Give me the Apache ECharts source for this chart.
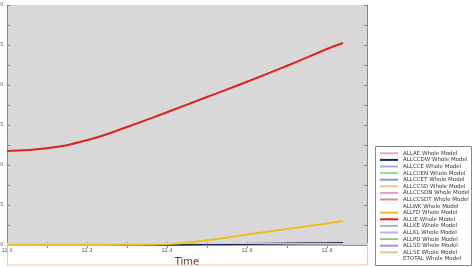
<!DOCTYPE html>
<html><head><meta charset="utf-8">
<script src="https://cdn.jsdelivr.net/npm/echarts@6/dist/echarts.min.js"></script>
<style>html,body{margin:0;padding:0;background:#fff}#c{width:474px;height:267px}</style>
</head><body><div id="c"></div>
<script>
var times = [12.0, 12.1, 12.2, 12.3, 12.4, 12.5, 12.6, 12.7, 12.8, 12.84];
var seriesNames = ["ALLAE Whole Model","ALLCCDW Whole Model","ALLCCE Whole Model","ALLCCEN Whole Model","ALLCCET Whole Model","ALLCCSD Whole Model","ALLCCSDN Whole Model","ALLCCSDT Whole Model","ALLWK Whole Model","ALLFD Whole Model","ALLIE Whole Model","ALLKE Whole Model","ALLKL Whole Model","ALLPD Whole Model","ALLSD Whole Model","ALLSE Whole Model","ETOTAL Whole Model"];
var allie  = [11.75, 12.1, 13.1, 14.75, 16.6, 18.5, 20.4, 22.4, 24.5, 25.25];
var allfd  = [0, 0, 0, 0.02, 0.12, 0.6, 1.3, 2.0, 2.7, 3.0];
var allccdw= [0, 0, 0.01, 0.02, 0.04, 0.08, 0.13, 0.18, 0.23, 0.25];
var zeros  = [0, 0, 0, 0, 0, 0, 0, 0, 0, 0];
var xTickLabels = ["12.0","12.2","12.4","12.6","12.8"];
var yTickLabels = ["0.","5.","10.","15.","20.","25.","30."];

var colors = ["#f0a8b8","#1a2456","#a8a8e8","#98d898","#8898e0","#e8c890","#e898d8","#c89898","rgba(0,0,0,0)","#e8c020","#e02020","#a8b8c8","#c8a8e8","#98c888","#9898e8","#e8c890","rgba(0,0,0,0)"];
var widths = [1,2,1,1,1,1,1,1,1,2,2,1,1,1,1,1,1];
var dataMap = {1: allccdw, 9: allfd, 10: allie};

var series = seriesNames.map(function(n, i){
  var vals = dataMap[i] || zeros;
  return {
    name: n, type: 'line', smooth: true, showSymbol: false, symbol: 'none',
    xAxisIndex: 0, yAxisIndex: 0,
    z: (i===10||i===9||i===1) ? 5 : 2,
    lineStyle: {color: colors[i], width: widths[i]},
    itemStyle: {color: colors[i]},
    data: times.map(function(t, k){ return [t, vals[k]]; })
  };
});

var chart = echarts.init(document.getElementById('c'), null, {renderer: 'canvas'});
var labelStyle = {fontSize: 5, color: '#555', fontFamily: 'DejaVu Sans'};
chart.setOption({
  animation: false,
  backgroundColor: '#ffffff',
  grid: {left: 7, right: 107, top: 5, bottom: 22, show: true, backgroundColor: '#d8d8d8', borderWidth: 0, containLabel: false, outerBoundsMode: 'none'},
  xAxis: [{
    type: 'value', min: 12.0, max: 12.9, interval: 0.1, position: 'bottom',
    name: 'Time', nameLocation: 'middle', nameGap: 9,
    nameTextStyle: {fontSize: 10, color: '#444', fontFamily: 'DejaVu Sans'},
    axisLine: {show: true, lineStyle: {color: '#888', width: 1}},
    axisTick: {show: true, inside: true, length: 3, lineStyle: {color: '#888'}},
    splitLine: {show: false},
    axisLabel: Object.assign({margin: 3, showMaxLabel: false, formatter: function(v){
      var k = Math.round((v - 12.0) * 10);
      return (k % 2 === 0 && k/2 < xTickLabels.length) ? xTickLabels[k/2] : '';
    }}, labelStyle)
  },{
    type: 'value', min: 12.0, max: 12.9, interval: 0.1, position: 'top',
    axisLine: {show: true, lineStyle: {color: '#888', width: 1}},
    axisTick: {show: true, inside: true, length: 3, lineStyle: {color: '#888'}},
    splitLine: {show: false}, axisLabel: {show: false}
  }],
  yAxis: [{
    type: 'value', min: 0, max: 30, interval: 2.5, position: 'left',
    axisLine: {show: true, lineStyle: {color: '#888', width: 1}},
    axisTick: {show: true, inside: true, length: 3, lineStyle: {color: '#888'}},
    splitLine: {show: false},
    axisLabel: Object.assign({margin: 2, formatter: function(v){
      var k = Math.round(v / 5 * 100) / 100;
      return (Number.isInteger(k)) ? yTickLabels[k] : '';
    }}, labelStyle)
  },{
    type: 'value', min: 0, max: 30, interval: 2.5, position: 'right',
    axisLine: {show: true, lineStyle: {color: '#888', width: 1}},
    axisTick: {show: true, inside: true, length: 3, lineStyle: {color: '#888'}},
    splitLine: {show: false}, axisLabel: {show: false}
  }],
  legend: {
    orient: 'vertical', left: 376, top: 147, padding: [3, 2, 2, 4],
    itemWidth: 18, itemHeight: 2, itemGap: 0, icon: 'rect',
    textStyle: {fontSize: 5.5, lineHeight: 6.6, color: '#333', fontFamily: 'DejaVu Sans'},
    data: seriesNames
  },
  graphic: [
    {type: 'rect', shape: {x: 375.5, y: 146.5, width: 96, height: 119}, style: {fill: 'none', stroke: '#888', lineWidth: 1}, z: 0},
    {type: 'rect', shape: {x: 7.5, y: 243.5, width: 360, height: 21.5}, style: {fill: 'none', stroke: '#f2c898', lineWidth: 1.2}, z: 10}
  ],
  series: series
});
</script>
</body></html>
